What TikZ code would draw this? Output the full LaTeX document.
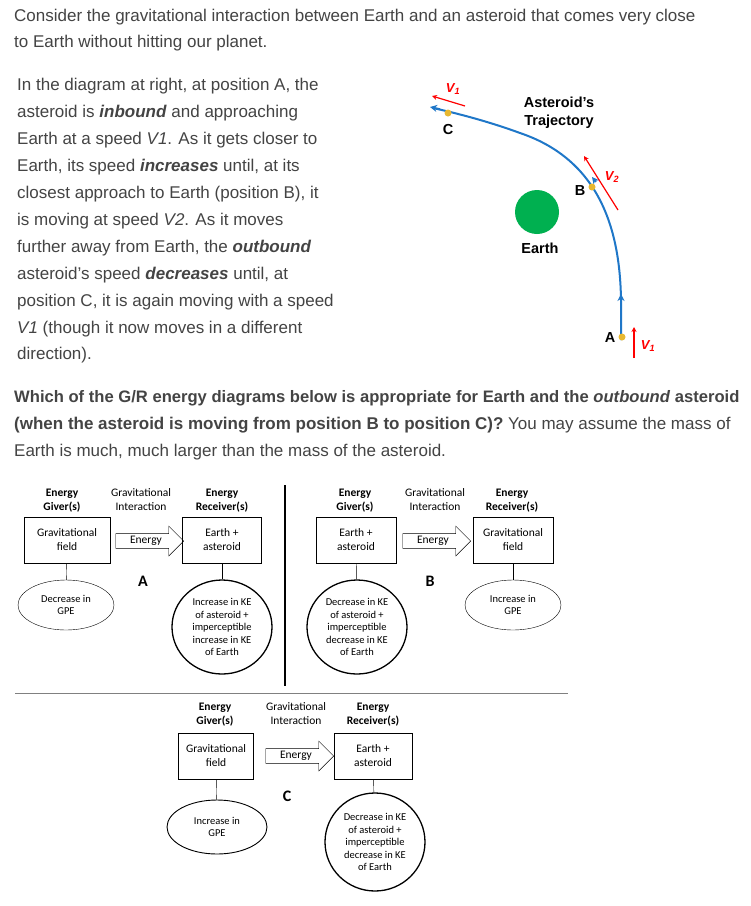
\documentclass[tikz,border=0pt]{standalone}
\usepackage{fontspec}
\setmainfont{Liberation Sans}
\newfontfamily\calfam{Carlito}
\usetikzlibrary{shapes.geometric,shapes.arrows,arrows.meta}
\definecolor{txt}{HTML}{444444}
\definecolor{traj}{HTML}{1F77C8}
\definecolor{earthg}{HTML}{00B050}
\definecolor{ast}{HTML}{E8B830}
\begin{document}
\begin{tikzpicture}[x=1pt,y=-1pt,
 para/.style={anchor=west,text=txt,font=\fontsize{17}{19}\selectfont,inner sep=0},
 hd/.style={align=center,font=\calfam\fontsize{11.5}{14}\selectfont\bfseries,inner sep=0},
 hi/.style={align=center,font=\calfam\fontsize{11.5}{14}\selectfont,inner sep=0},
 bx/.style={draw,align=center,font=\calfam\fontsize{11.5}{14}\selectfont,minimum width=80pt,minimum height=46pt,inner sep=1pt},
 el/.style={draw,ellipse,align=center,font=\calfam\fontsize{10.5}{12.5}\selectfont,inner sep=0},
 thk/.style={line width=1.3pt},
 enar/.style={draw,single arrow,single arrow head extend=6pt,minimum height=68pt,minimum width=30pt,inner sep=1pt,font=\calfam\fontsize{11.5}{14}\selectfont,shape border uses incircle=false},
 lbl/.style={font=\calfam\fontsize{16}{18}\selectfont\bfseries,inner sep=0},
 tl/.style={font=\fontsize{14.5}{18}\selectfont\bfseries,inner sep=0,align=center},
 vl/.style={text=red,font=\fontsize{13}{15}\selectfont\bfseries\itshape,inner sep=0}]
\useasboundingbox (0,0) rectangle (751,906);
\fill[white] (0,0) rectangle (751,906);
% paragraph text
\node[para] (t1) at (14,17) {Consider the gravitational interaction between Earth and an asteroid that comes very close};
\node[para] (t2) at (14,43) {to Earth without hitting our planet.};
\node[para] (p1) at (17,86) {In the diagram at right, at position A, the};
\node[para] (p2) at (17,113) {asteroid is \textbf{\textit{inbound}} and approaching};
\node[para] (p3) at (17,140) {Earth at a speed \textit{V1}.  As it gets closer to};
\node[para] (p4) at (17,167) {Earth, its speed \textbf{\textit{increases}} until, at its};
\node[para] (p5) at (17,194) {closest approach to Earth (position B), it};
\node[para] (p6) at (17,221) {is moving at speed \textit{V2}. As it moves};
\node[para] (p7) at (17,248) {further away from Earth, the \textbf{\textit{outbound}}};
\node[para] (p8) at (17,275) {asteroid's speed \textbf{\textit{decreases}} until, at};
\node[para] (p9) at (17,302) {position C, it is again moving with a speed};
\node[para] (p10) at (17,329) {\textit{V1} (though it now moves in a different};
\node[para] (p11) at (17,355) {direction).};
\node[para,font=\fontsize{16.6}{19}\selectfont] (q1) at (14,398) {\textbf{Which of the G/R energy diagrams below is appropriate for Earth and the \textit{outbound} asteroid}};
\node[para] (q2) at (14,425) {\textbf{(when the asteroid is moving from position B to position C)?} You may assume the mass of};
\node[para] (q3) at (14,452) {Earth is much, much larger than the mass of the asteroid.};
% trajectory
\draw[traj,line width=2pt] (621,340) -- (621,300) .. controls (620,230) and (600,160) .. (520,133) .. controls (490,122) and (460,114) .. (433,108);
\draw[traj,line width=1.5pt,-{Stealth[length=7pt,width=7pt]}] (621,305) -- (621,294);
\draw[traj,line width=1.5pt,-{Stealth[length=7pt,width=7pt]}] (596,182) -- (592,177);
\draw[traj,line width=1.5pt,-{Stealth[length=7pt,width=7pt]}] (440,109) -- (430,107);
\fill[ast] (448,113) circle (3.5pt);
\fill[ast] (592,187) circle (3.5pt);
\fill[ast] (622,337) circle (3.5pt);
\node[circle,fill=earthg,minimum size=44pt,inner sep=0] (earth) at (537,212) {};
\node[tl] (elab) at (540,248) {Earth};
\node[tl] (trj) at (559,113) {Asteroid's\\Trajectory};
\node[tl] (la) at (610,338) {A};
\node[tl] (lb) at (580,191) {B};
\node[tl] (lc) at (448,130) {C};
\coordinate (v1s) at (465,106); \coordinate (v1e) at (432,96);
\draw[red,line width=1.2pt,-{Stealth[length=5pt,width=5pt]}] (v1s) -- (v1e);
\node[vl] (v1a) at (453,89) {V\textsubscript{1}};
\coordinate (v2s) at (618,210); \coordinate (v2e) at (584,156);
\draw[red,line width=1.2pt,-{Stealth[length=5pt,width=5pt]}] (v2s) -- (v2e);
\node[vl] (v2) at (612,177) {V\textsubscript{2}};
\coordinate (v3s) at (634,358); \coordinate (v3e) at (634,327);
\draw[red,line width=1.2pt,-{Stealth[length=5pt,width=5pt]}] (v3s) -- (v3e);
\node[vl] (v3) at (648,346) {V\textsubscript{1}};
% Panel A
\node[hd] (ga) at (62,501) {Energy\\Giver(s)};
\node[hi] (ia) at (141,500) {Gravitational\\Interaction};
\node[hd] (ra) at (222,501) {Energy\\Receiver(s)};
\node[bx,minimum width=86pt] (b1a) at (67,540) {Gravitational\\field};
\node[enar] (ara) at (146,541) {Energy};
\node[bx,minimum width=79pt] (b2a) at (222,540) {Earth +\\asteroid};
\node[el,minimum width=96pt,minimum height=50pt] (e1a) at (66,605) {Decrease in\\GPE};
\node[el,thk,minimum width=100pt,minimum height=94pt] (e2a) at (222,627) {Increase in KE\\of asteroid +\\imperceptible\\increase in KE\\of Earth};
\draw (b1a) -- (e1a); \draw (b2a) -- (e2a);
\node[lbl] (la2) at (143,581) {A};
\coordinate (vs1) at (285,485); \coordinate (vs2) at (285,686);
\draw[thk] (vs1) -- (vs2);
% Panel B
\node[hd] (gb) at (355,501) {Energy\\Giver(s)};
\node[hi] (ib) at (435,500) {Gravitational\\Interaction};
\node[hd] (rb) at (512,501) {Energy\\Receiver(s)};
\node[bx] (b1b) at (356,540) {Earth +\\asteroid};
\node[enar] (arb) at (433,541) {Energy};
\node[bx] (b2b) at (513,540) {Gravitational\\field};
\node[el,thk,minimum width=100pt,minimum height=94pt] (e1b) at (357,627) {Decrease in KE\\of asteroid +\\imperceptible\\decrease in KE\\of Earth};
\node[el,minimum width=96pt,minimum height=50pt] (e2b) at (513,605) {Increase in\\GPE};
\draw (b1b) -- (e1b); \draw (b2b) -- (e2b);
\node[lbl] (lb2) at (430,581) {B};
\coordinate (hs1) at (15,693); \coordinate (hs2) at (568,693);
\draw[gray] (hs1) -- (hs2);
% Panel C
\node[hd] (gc) at (215,715) {Energy\\Giver(s)};
\node[hi] (ic) at (296,714) {Gravitational\\Interaction};
\node[hd] (rc) at (373,715) {Energy\\Receiver(s)};
\node[bx,minimum width=75pt] (b1c) at (216,756) {Gravitational\\field};
\node[enar] (arc) at (296,756) {Energy};
\node[bx,minimum width=78pt] (b2c) at (373,756) {Earth +\\asteroid};
\node[el,line width=0.9pt,minimum width=100pt,minimum height=54pt] (e1c) at (217,827) {Increase in\\GPE};
\node[el,thk,minimum width=100pt,minimum height=98pt] (e2c) at (375,842) {Decrease in KE\\of asteroid +\\imperceptible\\decrease in KE\\of Earth};
\draw (b1c) -- (e1c); \draw (b2c) -- (e2c);
\node[lbl] (lc2) at (287,796) {C};
\end{tikzpicture}
\end{document}
